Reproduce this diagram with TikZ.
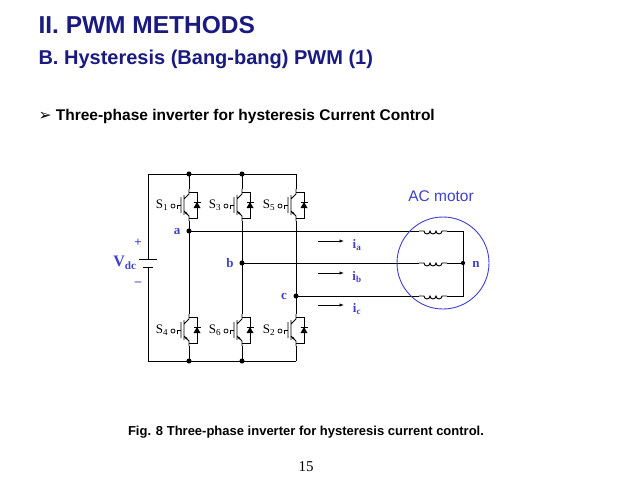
\documentclass[tikz,border=0pt]{standalone}
\usepackage{fontspec}
\setsansfont{Liberation Sans}
\setmainfont{Liberation Serif}
\newfontfamily\sym{DejaVu Sans}
\usetikzlibrary{arrows.meta}
\definecolor{ttl}{HTML}{1A1A80}
\definecolor{lbl}{HTML}{4040D0}
\tikzset{x=1pt,y=-1pt,
 wire/.style={line width=0.9pt},
 dot/.style={circle,fill,inner sep=1.8pt},
 lab/.style={text=lbl,font=\bfseries\fontsize{13}{13}\selectfont\rmfamily},
 slab/.style={font=\fontsize{13}{13}\selectfont\rmfamily},
 igbt/.pic={
  \draw[wire] (0,-16)--(0,-11)--(-5,-6) (-5,-10)--(-5,10) (-8,-8)--(-8,8) (-5,6)--(0,11)--(0,16);
  \draw[-{Latex[length=3pt]},line width=0.7pt] (-5,6)--(-1,10);
  \draw[wire] (0,-13)--(8,-13)--(8,13)--(0,13);
  \fill (4.5,3)--(11.5,3)--(8,-3)--cycle; \draw[wire] (4.5,-3)--(11.5,-3);
  \draw[line width=0.7pt] (-8,0)--(-12,0)--(-12,4); \draw[line width=0.7pt] (-16,1) circle (2);
 },
 ind/.pic={\draw[wire] (-14,0)--(-9,0) arc(180:0:3) arc(180:0:3) arc(180:0:3) -- (14,0);}
}
\begin{document}
\begin{tikzpicture}
\useasboundingbox (0,0) rectangle (638,479);
\fill[white] (0,0) rectangle (638,479);
\node[anchor=west,text=ttl,font=\sffamily\bfseries\fontsize{24.5}{26}\selectfont] (t1) at (35,25) {II. PWM METHODS};
\node[anchor=west,text=ttl,font=\sffamily\bfseries\fontsize{20}{22}\selectfont] (t2) at (35,59) {B. Hysteresis (Bang-bang) PWM (1)};
\node[anchor=west,font=\sffamily\bfseries\fontsize{15.5}{18}\selectfont] (t3) at (35,116) {{\sym ➢} Three-phase inverter for hysteresis Current Control};
\node[font=\sffamily\bfseries\fontsize{13}{15}\selectfont] (cap) at (306,432) {Fig. 8 Three-phase inverter for hysteresis current control.};
\node[font=\rmfamily\fontsize{15}{17}\selectfont] (pg) at (306,467) {15};
\coordinate (TL) at (148,174); \coordinate (BL) at (148,361);
\foreach \n/\x in {1/189,2/242,3/296}{
 \coordinate (T\n) at (\x,174); \coordinate (B\n) at (\x,361);
 \pic at (\x,205) {igbt}; \pic at (\x,330) {igbt};
 \draw[wire] (T\n)--(\x,189); \draw[wire] (\x,221)--(\x,314); \draw[wire] (\x,346)--(B\n);
}
\draw[wire] (TL)--(T3) (BL)--(B3);
\draw[wire] (TL)--(148,259) (148,267)--(BL);
\draw[wire] (139,259)--(157,259); \draw[wire] (143,267)--(153,267);
\node[dot] at (T1) {}; \node[dot] at (T2) {};\node[dot] at (B1) {}; \node[dot] at (B2) {};
\coordinate (a) at (189,231); \coordinate (b) at (242,263); \coordinate (c) at (296,296);
\coordinate (n) at (463,263);
\node[dot] at (a) {}; \node[dot] at (b) {}; \node[dot] at (c) {}; \node[dot,inner sep=1.5pt] at (n) {};
\draw[wire] (a)--(419,231) (447,231)--(463,231)--(463,296)--(447,296) (419,296)--(c);
\draw[wire] (b)--(419,263) (447,263)--(n);
\foreach \y in {231,263,296}{\pic at (433,\y) {ind};}
\draw[lbl,line width=0.9pt] (443,263) circle (46);
\node[text=lbl,font=\sffamily\fontsize{15.5}{17}\selectfont] (ac) at (441,196) {AC motor};
\node[lab] at (177,232) {a}; \node[lab] at (230,263) {b}; \node[lab] at (284,296) {c};
\node[lab] at (476,264) {n};
\node[lab,font=\bfseries\fontsize{16}{16}\selectfont\rmfamily] at (125,263) {V\textsubscript{dc}};
\node[lab] at (138,243) {+}; \node[lab] at (138,284) {\textendash};
\foreach \y/\s in {241/a,273/b,305/c}{
 \draw[-{Latex[length=4.5pt]},line width=0.8pt] (318,\y)--(344,\y);
 \node[lab] at (357,\y+4) {i\textsubscript{\s}};}
\foreach \x/\s/\t in {189/1/4,242/3/6,296/5/2}{
 \node[slab] at (\x-27,205) {S\textsubscript{\s}};
 \node[slab] at (\x-27,330) {S\textsubscript{\t}};}
\end{tikzpicture}
\end{document}
